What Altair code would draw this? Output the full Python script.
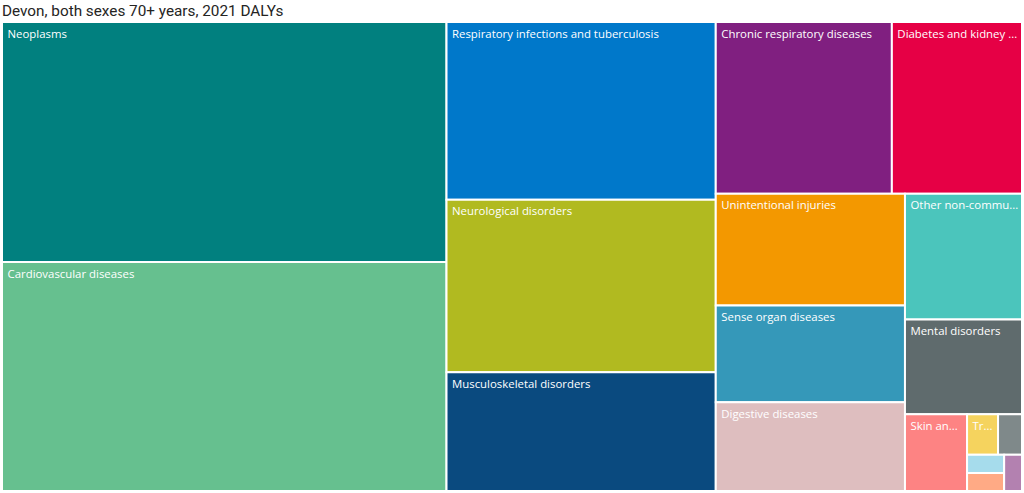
import math
import altair as alt
import pandas as pd

TITLE = "Devon, both sexes 70+ years, 2021 DALYs"

causes = [
    "Neoplasms",
    "Cardiovascular diseases",
    "Respiratory infections and tuberculosis",
    "Neurological disorders",
    "Musculoskeletal disorders",
    "Chronic respiratory diseases",
    "Diabetes and kidney diseases",
    "Unintentional injuries",
    "Sense organ diseases",
    "Digestive diseases",
    "Other non-communicable diseases",
    "Mental disorders",
    "Skin and subcutaneous diseases",
    "Transport injuries",
    "Substance use disorders",
    "Enteric infections",
    "Other infectious diseases",
    "Self-harm and interpersonal violence",
]
dalys = [32040, 30570, 14365, 13960, 9600, 9080, 6710, 6350, 5500, 5045,
         4420, 3335, 1430, 375, 290, 205, 200, 195]
colors = ["#01807F", "#66C08F", "#0078CA", "#B1BA20", "#0A4A7F", "#801F80",
          "#E60045", "#F39800", "#3598B9", "#DEBEBF", "#4BC5BC", "#5F6B6D",
          "#FD8383", "#F5D35E", "#7F898A", "#A6DCEC", "#FFAA85", "#B381B0"]

W, H = 1020, 469
PHI = (1 + math.sqrt(5)) / 2


def squarify(values, x0, y0, x1, y1, ratio=PHI):
    """d3-style squarified treemap layout; returns list of (x0, y0, x1, y1)."""
    n = len(values)
    out = [None] * n
    value = float(sum(values))
    i0 = 0
    while i0 < n:
        dx, dy = x1 - x0, y1 - y0
        i1 = i0
        s = values[i1]
        i1 += 1
        mn = mx = s
        alpha = max(dy / dx, dx / dy) / (value * ratio)
        beta = s * s * alpha
        min_ratio = max(mx / beta, beta / mn)
        while i1 < n:
            nv = values[i1]
            s += nv
            mn = min(mn, nv)
            mx = max(mx, nv)
            beta = s * s * alpha
            new_ratio = max(mx / beta, beta / mn)
            if new_ratio > min_ratio:
                s -= nv
                break
            min_ratio = new_ratio
            i1 += 1
        if dx < dy:  # dice: a row across the top
            ny = y0 + dy * s / value
            cx = x0
            for k in range(i0, i1):
                w = dx * values[k] / s
                out[k] = (cx, y0, cx + w, ny)
                cx += w
            y0 = ny
        else:  # slice: a column at the left
            nx = x0 + dx * s / value
            cy = y0
            for k in range(i0, i1):
                h = dy * values[k] / s
                out[k] = (x0, cy, nx, cy + h)
                cy += h
            x0 = nx
        value -= s
        i0 = i1
    return out


rects = squarify(dalys, 0, 0, W, H)
df = pd.DataFrame({
    "cause": causes,
    "dalys": dalys,
    "color": colors,
    "x0": [r[0] for r in rects],
    "y0": [r[1] for r in rects],
    "x1": [r[2] for r in rects],
    "y1": [r[3] for r in rects],
})
df["w"] = df["x1"] - df["x0"]
df["h"] = df["y1"] - df["y0"]

xs = alt.Scale(domain=[0, W], range=[0, W], nice=False, zero=False)
ys = alt.Scale(domain=[0, H], range=[0, H], nice=False, zero=False)

base = alt.Chart(df)

boxes = base.mark_rect(stroke="white", strokeWidth=2).encode(
    x=alt.X("x0:Q", scale=xs, axis=None),
    x2="x1:Q",
    y=alt.Y("y0:Q", scale=ys, axis=None),
    y2="y1:Q",
    color=alt.Color("color:N", scale=None),
    tooltip=["cause:N", alt.Tooltip("dalys:Q", format=",")],
)

labels = base.transform_filter(
    "datum.w >= 28 && datum.h >= 25"
).mark_text(
    align="left", baseline="alphabetic", dx=5.5, dy=15.5,
    font="Open Sans", fontSize=11.4, color="white",
    limit=alt.expr("datum.w - 9"), ellipsis="...",
).encode(
    x=alt.X("x0:Q", scale=xs, axis=None),
    y=alt.Y("y0:Q", scale=ys, axis=None),
    text="cause:N",
)

title = alt.Chart(pd.DataFrame({"t": [TITLE]})).mark_text(
    align="left", baseline="alphabetic", font="Roboto", fontSize=15.3,
    color="#252423",
).encode(
    x=alt.value(0),
    y=alt.value(-6),
    text="t:N",
)

chart = alt.layer(boxes, labels, title).properties(
    width=W, height=H,
    autosize=alt.AutoSizeParams(type="none"),
    padding={"left": 2, "top": 22, "right": 2, "bottom": 2},
    background="white",
).configure_view(stroke=None)

chart.save("out.html", embed_options={"renderer": "svg", "actions": False})
